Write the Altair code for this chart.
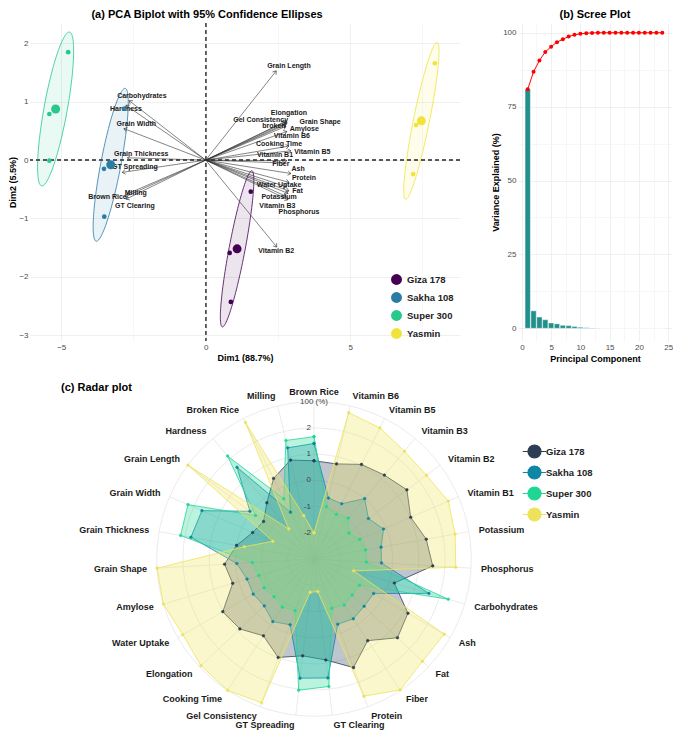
import altair as alt
import numpy as np
import pandas as pd

FONT = "Liberation Sans"

groups = ["Giza 178", "Sakha 108", "Super 300", "Yasmin"]
pca_colors = ["#440154", "#2A7CA3", "#26C98B", "#F2E33A"]
radar_colors = ["#2C3E55", "#0F86A3", "#1FD794", "#EDE35A"]

# ---------------- PCA individuals ----------------
ind_group = ["Giza 178"] * 3 + ["Sakha 108"] * 3 + ["Super 300"] * 3 + ["Yasmin"] * 3
ind_dim1 = [1.56, 0.83, 0.87, -3.52, -3.51, -2.83, -4.76, -5.41, -5.41, 7.93, 7.28, 7.18]
ind_dim2 = [-0.54, -1.59, -2.43, -0.15, -0.97, 0.88, 1.85, 0.79, -0.01, 1.66, 0.60, -0.24]
# width factor of each ellipse's minor axis
ellipse_widen = [1.0, 1.4, 1.8, 1.5]

# ---------------- PCA loadings ----------------
var_names = ["Grain Length", "Elongation", "Gel Consistency", "Grain Shape", "broken",
             "Amylose", "Vitamin B6", "Cooking Time", "Vitamin B5", "Vitamin B1", "Fiber",
             "Ash", "Protein", "Water Uptake", "Fat", "Potassium", "Vitamin B3", "Phosphorus",
             "Vitamin B2", "Carbohydrates", "Hardness", "Grain Width", "Grain Thickness",
             "GT Spreading", "Milling", "Brown Rice", "GT Clearing"]
load_x = [2.44, 2.79, 2.74, 2.82, 2.78, 2.78, 2.81, 2.88, 2.95, 2.81, 2.74, 2.95, 2.88,
          2.81, 2.88, 2.85, 2.78, 2.85, 2.46, -2.65, -2.76, -2.83, -2.71, -2.89, -2.72,
          -2.79, -2.76]
load_y = [1.53, 0.67, 0.65, 0.64, 0.61, 0.58, 0.49, 0.24, 0.16, -0.01, -0.05, -0.23, -0.38,
          -0.46, -0.53, -0.57, -0.62, -0.68, -1.49, 1.02, 0.94, 0.54, 0.04, -0.21, -0.58,
          -0.63, -0.67]
label_x = [2.88, 2.88, 1.90, 3.96, 2.36, 3.41, 2.98, 2.54, 3.69, 2.40, 2.60, 3.20, 3.40,
           2.54, 3.18, 2.54, 2.48, 3.23, 2.44, -2.21, -2.76, -2.40, -2.23, -2.45, -2.42,
           -3.40, -2.45]
label_y = [1.62, 0.80, 0.69, 0.66, 0.58, 0.54, 0.41, 0.27, 0.14, 0.09, -0.07, -0.16, -0.31,
           -0.43, -0.53, -0.63, -0.78, -0.89, -1.56, 1.10, 0.88, 0.62, 0.11, -0.12, -0.57,
           -0.64, -0.79]

# ---------------- Scree ----------------
pcs = list(range(1, 25))
var_exp = [80.9, 5.9, 3.8, 2.9, 1.8, 1.5, 1.0, 0.9, 0.6, 0.35, 0.2, 0.1, 0.05] + [0.0] * 11

# ---------------- Radar ----------------
radar_axes = ["Brown Rice", "Vitamin B6", "Vitamin B5", "Vitamin B3", "Vitamin B2",
              "Vitamin B1", "Potassium", "Phosphorus", "Carbohydrates", "Ash", "Fat",
              "Fiber", "Protein", "GT Clearing", "GT Spreading", "Gel Consistency",
              "Cooking Time", "Elongation", "Water Uptake", "Amylose", "Grain Shape",
              "Grain Thickness", "Grain Width", "Grain Length", "Hardness", "Broken Rice",
              "Milling"]
radar_giza = [0.75, 0.73, 1.04, 1.18, 1.42, 1.02, 1.35, 1.54, 0.2, 1.14, 1.38, 0.73, 1.41,
              0.88, 0.72, 1.0, 0.51, 0.89, 1.02, 0.24, 0.42, 0.0, -0.45, -0.6, -0.2, 0.44, 0.88]
radar_sakha = [1.41, -0.61, -0.64, 0.01, -0.41, -0.11, -0.4, -0.42, 1.58, -0.37, -0.37,
               -0.27, -0.35, 1.57, 1.58, -0.33, -0.14, -0.39, -0.32, -0.33, -0.05, 1.77,
               1.66, 0.05, 1.57, -1.0, 1.36]
radar_super = [1.67, -0.94, -1.09, -0.96, -1.34, -1.1, -1.0, -1.0, 2.35, -1.0, -1.0, -0.9,
               -1.0, 1.9, 2.04, -0.9, -0.8, -0.9, -0.8, -0.8, -0.64, 2.17, 2.24, -0.22,
               2.13, -0.43, 1.65]
radar_yasmin = [-2.0, 2.74, 2.6, 2.37, 2.35, 2.58, 2.47, 2.42, -1.42, 2.74, 2.69, 2.98,
                2.57, -1.75, -1.72, 2.84, 3.0, 2.93, 2.78, 3.0, 3.0, -0.3, -1.29, 3.0, -1.5,
                2.83, -1.3]
radar_levels = [-2, -1, 0, 1, 2]
radar_level_text = ["-2", "-1", "0", "1", "2"]

# ======================= PCA panel =======================
ind_df = pd.DataFrame({"group": ind_group, "d1": ind_dim1, "d2": ind_dim2})
chi = 5.991
t = np.linspace(0, 2 * np.pi, 121)
ell_rows = []
for g, wf in zip(groups, ellipse_widen):
    sub = ind_df[ind_df.group == g][["d1", "d2"]].to_numpy()
    mu = sub.mean(axis=0)
    cov = np.cov(sub.T) / len(sub)
    sx, sy = 28.9, 59.6
    covp = cov * np.outer([sx, sy], [sx, sy])
    vals, vecs = np.linalg.eigh(covp)
    vals = np.clip(vals, 0, None)
    semi = np.sqrt(vals * chi) * np.array([wf, 1.0])
    circ = np.stack([np.cos(t), np.sin(t)])
    pts = vecs @ (semi[:, None] * circ)
    pts = mu[:, None] + pts / np.array([[sx], [sy]])
    for i in range(len(t)):
        ell_rows.append({"egroup": g, "i": i, "d1": pts[0, i], "d2": pts[1, i]})
ell_df = pd.DataFrame(ell_rows)

load_df = pd.DataFrame({"var": var_names, "lx": load_x, "ly": load_y,
                        "tx": label_x, "ty": label_y})

PW, PH = 430, 318
YD = [-3.1, 2.35]
pca_scale = alt.Scale(domain=groups, range=pca_colors)
xs = alt.Scale(domain=[-6.08, 8.8], nice=False, zero=False)
ys = alt.Scale(domain=YD, nice=False, zero=False)
ax_x = alt.Axis(values=[-5, -2.5, 0, 2.5, 5, 7.5],
                labelExpr="datum.value % 5 == 0 ? format(datum.value, 'd') : ''",
                labelPadding=2, titlePadding=2,
                gridColor={"condition": {"test": "datum.value % 5 != 0", "value": "#f4f4f4"},
                           "value": "#e9e9e9"})
ax_y = alt.Axis(values=[-3, -2.5, -2, -1.5, -1, -0.5, 0, 0.5, 1, 1.5, 2],
                labelExpr="datum.value % 1 == 0 ? format(datum.value, 'd') : ''",
                labelPadding=2, titlePadding=1,
                gridColor={"condition": {"test": "datum.value % 1 != 0", "value": "#f4f4f4"},
                           "value": "#e9e9e9"})
TX = "Dim1 (88.7%)"
TY = "Dim2 (5.5%)"
py_per_unit = PH / (YD[1] - YD[0])
px_per_unit = PW / (8.8 + 6.08)


def X(f):
    return alt.X(f, type="quantitative", scale=xs, axis=ax_x, title=TX)


def Y(f):
    return alt.Y(f, type="quantitative", scale=ys, axis=ax_y, title=TY)


pca_leg = alt.Legend(orient="none", legendX=360, legendY=250, title=None,
                     symbolType="circle", symbolSize=120, labelFontSize=9.5,
                     labelFontWeight="bold", labelFont=FONT, labelColor="#222",
                     labelOffset=4, rowPadding=6, symbolOpacity=1)
ell_scale = alt.Scale(domain=groups, range=pca_colors)

ellipses = alt.Chart(ell_df).mark_line(strokeWidth=0.8, fillOpacity=0.1).encode(
    x=X("d1"), y=Y("d2"), order="i:Q",
    stroke=alt.Stroke("egroup:N", scale=ell_scale, legend=None),
    fill=alt.Fill("egroup:N", scale=ell_scale, legend=None),
)
vline = alt.Chart(ind_df).mark_rule(strokeDash=[4, 3], color="#555", strokeWidth=0.6).encode(
    x=alt.datum(0))
hline = alt.Chart(ind_df).mark_rule(strokeDash=[4, 3], color="#555", strokeWidth=0.6).encode(
    y=alt.datum(0))
arrows = alt.Chart(load_df).transform_calculate(zero="0").mark_rule(
    color="#333", strokeWidth=0.6).encode(
    x=X("zero"), x2="lx", y=Y("zero"), y2="ly")
heads = alt.Chart(load_df).transform_calculate(
    ang=f"atan2(-datum.ly * {py_per_unit}, datum.lx * {px_per_unit}) * 180 / PI").mark_point(
    shape="M-1,-0.7L0,0L-1,0.7", filled=False, size=40, color="#333", strokeWidth=0.6,
    opacity=1).encode(x=X("lx"), y=Y("ly"), angle=alt.Angle("ang:Q", scale=None))
labels = alt.Chart(load_df).mark_text(fontSize=7, fontWeight="bold", font=FONT,
                                      fill="#1a1a1a").encode(
    x=X("tx"), y=Y("ty"), text="var:N")
ind_pts = alt.Chart(ind_df).mark_circle(size=22, opacity=1).encode(
    x=X("d1"), y=Y("d2"), color=alt.Color("group:N", scale=pca_scale, legend=None))
centroids = alt.Chart(ind_df).transform_aggregate(
    m1="mean(d1)", m2="mean(d2)", groupby=["group"]).transform_calculate(
    d1="datum.m1", d2="datum.m2").mark_circle(size=80, opacity=1).encode(
    x=X("d1"), y=Y("d2"),
    fill=alt.Fill("group:N", scale=pca_scale, legend=pca_leg))

pca = alt.layer(ellipses, vline, hline, arrows, heads, labels, ind_pts, centroids).resolve_scale(
    fill="independent").resolve_legend(fill="independent").properties(
    width=PW, height=PH,
    title=alt.TitleParams("(a) PCA Biplot with 95% Confidence Ellipses", dx=-38, offset=3))

# ======================= Scree panel =======================
scree_df = pd.DataFrame({"pc": pcs, "var": var_exp})
scree_df["cum"] = np.cumsum(scree_df["var"])
sxs = alt.Scale(domain=[-0.66, 25.66], nice=False, zero=False)
sys_ = alt.Scale(domain=[-4.3, 103.3], nice=False, zero=False)
sax_x = alt.Axis(values=[0, 2.5, 5, 7.5, 10, 12.5, 15, 17.5, 20, 22.5, 25],
                 labelExpr="datum.value % 5 == 0 ? datum.label : ''", labelPadding=2,
                 titlePadding=3,
                 gridColor={"condition": {"test": "datum.value % 5 != 0", "value": "#f4f4f4"},
                            "value": "#e9e9e9"})
sax_y = alt.Axis(values=[0, 12.5, 25, 37.5, 50, 62.5, 75, 87.5, 100],
                 labelExpr="datum.value % 25 == 0 ? datum.label : ''", labelPadding=2,
                 titlePadding=2,
                 gridColor={"condition": {"test": "datum.value % 25 != 0", "value": "#f4f4f4"},
                            "value": "#e9e9e9"})
SX = "Principal Component"
SY = "Variance Explained (%)"
bars = alt.Chart(scree_df).transform_calculate(
    a="datum.pc - 0.45", b="datum.pc + 0.45", base="0").mark_bar(
    color="#21908C", stroke="white", strokeWidth=0.4).encode(
    x=alt.X("a:Q", scale=sxs, axis=sax_x, title=SX), x2="b:Q",
    y=alt.Y("var:Q", scale=sys_, axis=sax_y, title=SY), y2="base:Q")
cum_line = alt.Chart(scree_df).mark_line(color="#FF0000", strokeWidth=1).encode(
    x=alt.X("pc:Q", scale=sxs, axis=sax_x, title=SX),
    y=alt.Y("cum:Q", scale=sys_, axis=sax_y, title=SY))
cum_pts = alt.Chart(scree_df).mark_circle(color="#FF0000", size=16, opacity=1).encode(
    x=alt.X("pc:Q", scale=sxs, axis=sax_x, title=SX),
    y=alt.Y("cum:Q", scale=sys_, axis=sax_y, title=SY))
scree = alt.layer(bars, cum_line, cum_pts).properties(
    width=154, height=PH, title=alt.TitleParams("(b) Scree Plot", offset=3))

# ======================= Radar panel =======================
N = len(radar_axes)
RMIN = -3
RS = 26.2
ROUT = 6 * RS
RLAB = ROUT + 10
radar_vals = {"Giza 178": radar_giza, "Sakha 108": radar_sakha,
              "Super 300": radar_super, "Yasmin": radar_yasmin}
rows = []
for g in groups:
    v = radar_vals[g]
    for k in range(N + 1):
        rows.append({"variety": g, "k": k, "axis": radar_axes[k % N], "value": v[k % N]})
radar_df = pd.DataFrame(rows)

RW, RH = 640, 366
rxs = alt.Scale(domain=[-284, 356], nice=False, zero=False)
rys = alt.Scale(domain=[-172, 194], nice=False, zero=False)
radar_scale = alt.Scale(domain=groups, range=radar_colors)


def RX(f):
    return alt.X(f, type="quantitative", scale=rxs, axis=None)


def RY(f):
    return alt.Y(f, type="quantitative", scale=rys, axis=None)


polar = dict(th=f"datum.k * 2 * PI / {N}",
             r=f"(datum.value - ({RMIN})) * {RS}")
xy = dict(px="datum.r * sin(datum.th)", py="datum.r * cos(datum.th)")

grid_rows = []
for lv in [-2, -1, 0, 1, 2, 3]:
    for j in range(181):
        grid_rows.append({"lv": lv, "j": j})
grid_df = pd.DataFrame(grid_rows)
grid = alt.Chart(grid_df).transform_calculate(
    th="datum.j * 2 * PI / 180", r=f"(datum.lv - ({RMIN})) * {RS}").transform_calculate(
    **xy).mark_line(color="#e3e3e3", strokeWidth=0.7).encode(
    x=RX("px"), y=RY("py"), detail="lv:N", order="j:Q")

spoke_df = pd.DataFrame({"k": list(range(N))})
spokes = alt.Chart(spoke_df).transform_calculate(
    th=f"datum.k * 2 * PI / {N}", x0="0", y0="0",
    px=f"{ROUT} * sin(datum.th)", py=f"{ROUT} * cos(datum.th)").mark_rule(
    color="#e3e3e3", strokeWidth=0.7).encode(
    x=RX("x0"), y=RY("y0"), x2="px", y2="py")

leg = alt.Legend(orient="none", legendX=497, legendY=79, title=None,
                 symbolType="M-1.8,0L-1,0M1,0L1.8,0M-1,0A1,1 0 1,0 1,0A1,1 0 1,0 -1,0Z",
                 symbolSize=169, symbolStrokeWidth=1.2, labelFontSize=9.5,
                 labelFontWeight="bold", labelFont=FONT, labelColor="#222", labelOffset=4,
                 rowPadding=2, symbolOpacity=1)

polys = alt.Chart(radar_df).transform_calculate(**polar).transform_calculate(**xy).mark_line(
    strokeWidth=0.8, fillOpacity=0.3).encode(
    x=RX("px"), y=RY("py"), order="k:Q",
    stroke=alt.Stroke("variety:N", scale=radar_scale, legend=leg),
    fill=alt.Fill("variety:N", scale=radar_scale, legend=leg))

vpts = alt.Chart(radar_df).transform_calculate(**polar).transform_calculate(**xy).mark_point(
    filled=True, size=7, opacity=1, strokeWidth=0.5).encode(
    x=RX("px"), y=RY("py"),
    stroke=alt.Stroke("variety:N", scale=radar_scale, legend=leg),
    fill=alt.Fill("variety:N", scale=radar_scale, legend=leg))

lab_df = pd.DataFrame({"axis": radar_axes, "k": list(range(N))})
lab_base = alt.Chart(lab_df).transform_calculate(
    th=f"datum.k * 2 * PI / {N}").transform_calculate(
    s="sin(datum.th)", px=f"{RLAB} * sin(datum.th)", py=f"{RLAB} * cos(datum.th)")
lab_kw = dict(baseline="middle", fontSize=9, fontWeight="bold", font=FONT, color="#1a1a1a")
lab_l = lab_base.transform_filter("datum.s > 0.08").mark_text(align="left", **lab_kw).encode(
    x=RX("px"), y=RY("py"), text="axis:N")
lab_r = lab_base.transform_filter("datum.s < -0.08").mark_text(align="right", **lab_kw).encode(
    x=RX("px"), y=RY("py"), text="axis:N")
lab_c = lab_base.transform_filter("abs(datum.s) <= 0.08").mark_text(
    align="center", **lab_kw).encode(x=RX("px"), y=RY("py"), text="axis:N")

tick_df = pd.DataFrame({"lv": radar_levels, "txt": radar_level_text})
ticks = alt.Chart(tick_df).transform_calculate(
    px="-3", py=f"(datum.lv - ({RMIN})) * {RS}").mark_text(
    align="right", baseline="middle", fontSize=8, font=FONT, color="#444").encode(
    x=RX("px"), y=RY("py"), text="txt:N")
top_df = pd.DataFrame({"lv": [3], "txt": ["100 (%)"]})
top_tick = alt.Chart(top_df).transform_calculate(
    px="0", py=f"(datum.lv - ({RMIN})) * {RS}").mark_text(
    align="center", baseline="middle", fontSize=8, font=FONT, color="#444").encode(
    x=RX("px"), y=RY("py"), text="txt:N")

radar_title = alt.Chart(top_df).mark_text(
    text="(c) Radar plot", align="left", baseline="middle", fontSize=11, fontWeight="bold",
    font=FONT, color="#000").encode(x=alt.value(31), y=alt.value(23))

radar = alt.layer(grid, spokes, polys, vpts, lab_l, lab_r, lab_c, ticks, top_tick,
                  radar_title).properties(width=RW, height=RH)

top = alt.hconcat(pca, scree, spacing=30)
chart = alt.vconcat(top, radar, spacing=2).resolve_scale(
    color="independent", fill="independent", stroke="independent").resolve_legend(
    color="independent", fill="independent", stroke="independent").properties(
    padding=0).configure_view(stroke=None).configure_axis(
    domain=False, ticks=False, labelFont=FONT, titleFont=FONT, labelColor="#4d4d4d",
    labelFontSize=8, titleFontSize=9, titleFontWeight="bold", titleColor="#000",
    gridWidth=0.7).configure_title(font=FONT, fontSize=11, fontWeight="bold", color="#000")

chart.save("out.html", embed_options={"renderer": "svg", "actions": False})
